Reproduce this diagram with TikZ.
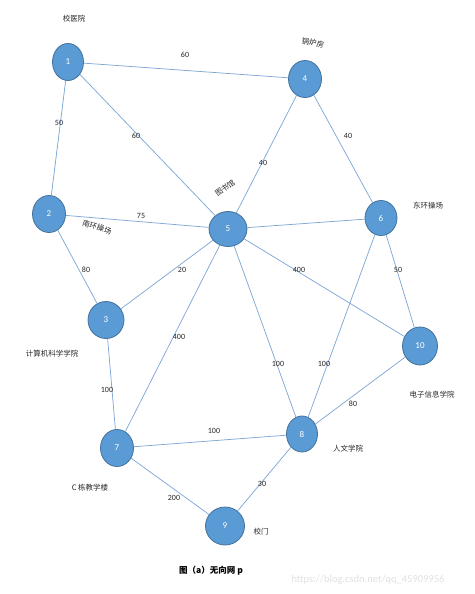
\documentclass[tikz,border=0pt]{standalone}
\usepackage{fontspec}
\setmainfont{Carlito}
\newfontfamily\cjk{Noto Sans CJK SC}
\usetikzlibrary{shapes.geometric}
\definecolor{nodefill}{HTML}{5B9BD5}
\definecolor{nodeline}{HTML}{41719C}
\definecolor{edgecol}{HTML}{7FA8D6}
\definecolor{txt}{HTML}{262626}
\tikzset{
  vert/.style={ellipse, draw=nodeline, fill=nodefill, line width=0.8pt, inner sep=0pt,
    minimum width=33pt, minimum height=37pt, text=white, font=\fontsize{9}{9}\selectfont},
  edge/.style={draw=edgecol, line width=0.75pt},
  wlabel/.style={text=txt, inner sep=0pt, font=\fontsize{8}{8}\selectfont},
  place/.style={text=txt, inner sep=0pt, font=\cjk\fontsize{7.5}{8}\selectfont},
  caption/.style={text=black, inner sep=0pt, font=\cjk\bfseries\fontsize{8.5}{9}\selectfont},
  wmark/.style={text=black!12, inner sep=0pt, font=\fontsize{10.5}{11}\selectfont}
}
\begin{document}
\begin{tikzpicture}[x=1pt,y=-1pt]
\useasboundingbox (0,0) rectangle (474,594);
% vertices
\node[vert, minimum width=31pt] (n1) at (68,62) {1};
\node[vert] (n2) at (49,214) {2};
\node[vert, minimum width=36pt] (n3) at (106,320) {3};
\node[vert] (n4) at (305,79) {4};
\node[vert, minimum width=38pt, minimum height=35pt] (n5) at (228,229) {5};
\node[vert, minimum width=32pt, minimum height=35pt] (n6) at (381,218) {6};
\node[vert] (n7) at (117,448) {7};
\node[vert, minimum width=31pt, minimum height=36pt] (n8) at (302,434) {8};
\node[vert, minimum width=39pt, minimum height=38pt] (n9) at (225,526) {9};
\node[vert, minimum width=35pt, minimum height=38pt] (n10) at (420,346) {10};
% edges
\draw[edge] (n1) -- (n4);
\draw[edge] (n1) -- (n2);
\draw[edge] (n1) -- (n5);
\draw[edge] (n4) -- (n5);
\draw[edge] (n4) -- (n6);
\draw[edge] (n2) -- (n5);
\draw[edge] (n2) -- (n3);
\draw[edge] (n3) -- (n5);
\draw[edge] (n5) -- (n6);
\draw[edge] (n5) -- (n7);
\draw[edge] (n5) -- (n10);
\draw[edge] (n5) -- (n8);
\draw[edge] (n6) -- (n10);
\draw[edge] (n6) -- (n8);
\draw[edge] (n3) -- (n7);
\draw[edge] (n7) -- (n8);
\draw[edge] (n7) -- (n9);
\draw[edge] (n8) -- (n10);
\draw[edge] (n8) -- (n9);
% edge weights
\node[wlabel] (w14) at (185,55) {60};
\node[wlabel] (w12) at (59,123) {50};
\node[wlabel] (w15) at (136,136) {60};
\node[wlabel] (w45) at (263,163) {40};
\node[wlabel] (w46) at (348,136) {40};
\node[wlabel] (w25) at (141,216) {75};
\node[wlabel] (w23) at (86,270) {80};
\node[wlabel] (w35) at (182,270) {20};
\node[wlabel] (w57) at (179,337) {400};
\node[wlabel] (w510) at (299,270) {400};
\node[wlabel] (w610) at (398,270) {50};
\node[wlabel] (w58) at (278,364) {100};
\node[wlabel] (w68) at (324,364) {100};
\node[wlabel] (w37) at (107,390) {100};
\node[wlabel] (w78) at (214,431) {100};
\node[wlabel] (w79) at (174,498) {200};
\node[wlabel] (w810) at (353,404) {80};
\node[wlabel] (w89) at (262,484) {30};
% place names
\node[place] (p1) at (74,19) {校医院};
\node[place, rotate=-12] (p4) at (313,43) {锅炉房};
\node[place, rotate=36] (p5) at (225,188) {图书馆};
\node[place, rotate=-18] (p2) at (97,227) {南环操场};
\node[place] (p6) at (428,206) {东环操场};
\node[place] (p3) at (52,354) {计算机科学学院};
\node[place] (p10) at (432,395) {电子信息学院};
\node[place] (p8) at (348,449) {人文学院};
\node[place] (p7) at (90,488) {C 栋教学楼};
\node[place] (p9) at (261,532) {校门};
% caption and watermark
\node[caption] (cap) at (211,571) {图（a）无向网 p};
\node[wmark] (wm) at (368,580) {https://blog.csdn.net/qq\_45909956};
\end{tikzpicture}
\end{document}
